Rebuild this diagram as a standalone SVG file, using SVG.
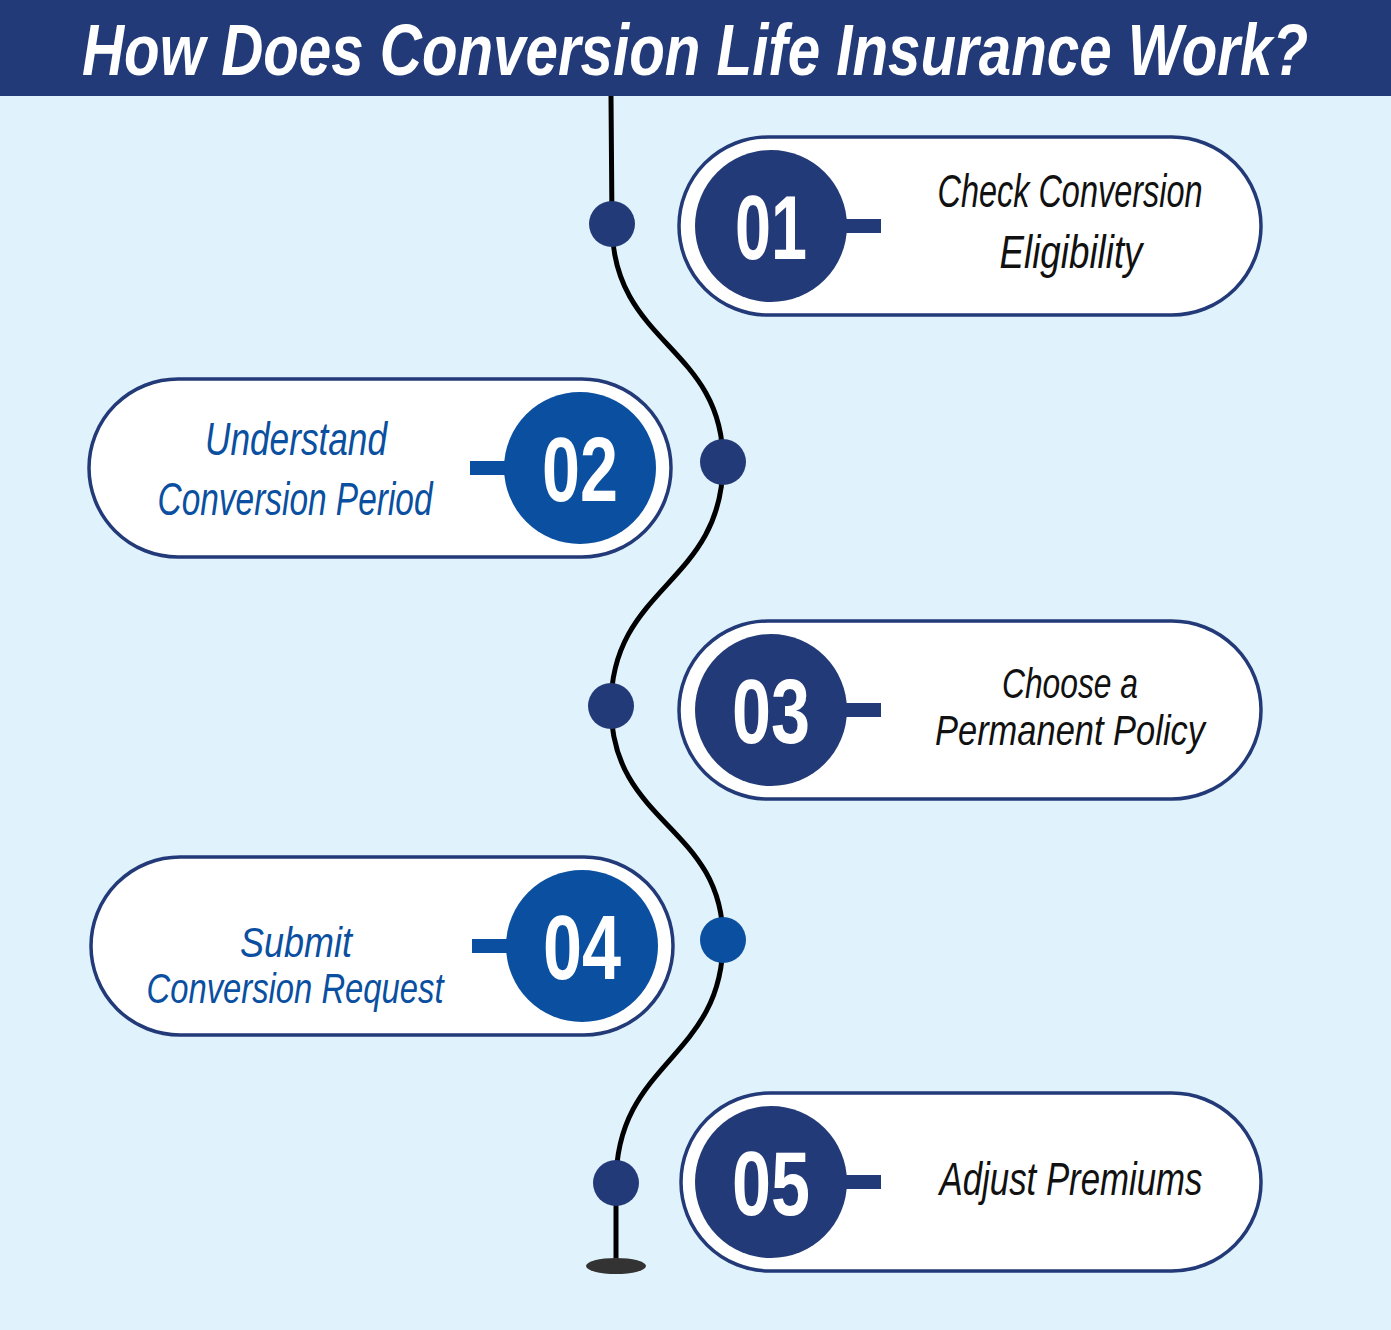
<svg xmlns="http://www.w3.org/2000/svg" width="1391" height="1330" viewBox="0 0 1391 1330">
<style>
.pill{fill:#ffffff;stroke:#233a78;stroke-width:3.5}
.dk{fill:#233a78}
.bl{fill:#0a4fa0}
.num{font-family:"Liberation Sans",Arial,sans-serif;font-weight:bold;font-size:90px;fill:#ffffff;text-anchor:middle}
.lbl{font-family:"Liberation Sans",Arial,sans-serif;font-style:italic;font-size:46px;text-anchor:middle}
.sm{font-size:42px}
.blk{fill:#111111}
.blt{fill:#0a4fa0}
</style>
<rect x="0" y="0" width="1391" height="1330" fill="#e0f2fc"/>
<g id="header">
<rect x="0" y="0" width="1391" height="96" fill="#233a78"/>
<text x="695" y="75" font-family="'Liberation Sans',Arial,sans-serif" font-weight="bold" font-style="italic" font-size="72" fill="#ffffff" text-anchor="middle" textLength="1226" lengthAdjust="spacingAndGlyphs">How Does Conversion Life Insurance Work?</text>
</g>
<g id="connectors">
<path d="M611,96 L612,224 C612,345 723,345 723,462 C723,585 611,585 611,706 C611,825 723,825 723,940 C723,1060 616,1060 616,1183 L616,1266" fill="none" stroke="#000000" stroke-width="5"/>
<ellipse cx="616" cy="1266" rx="30" ry="8" fill="#333333"/>
<circle cx="612" cy="224" r="23" class="dk"/>
<circle cx="723" cy="462" r="23" class="dk"/>
<circle cx="611" cy="706" r="23" class="dk"/>
<circle cx="723" cy="940" r="23" class="bl"/>
<circle cx="616" cy="1183" r="23" class="dk"/>
</g>
<g id="step1">
<rect x="679" y="137" width="582" height="178" rx="89" class="pill"/>
<rect x="840" y="219" width="41" height="14" class="dk"/>
<circle cx="771" cy="226" r="76" class="dk"/>
<text x="771" y="259" class="num" textLength="72" lengthAdjust="spacingAndGlyphs">01</text>
<text x="1070" y="207" class="lbl blk" textLength="265" lengthAdjust="spacingAndGlyphs">Check Conversion</text>
<text x="1071" y="268" class="lbl blk" textLength="143" lengthAdjust="spacingAndGlyphs">Eligibility</text>
</g>
<g id="step2">
<rect x="89" y="379" width="582" height="178" rx="89" class="pill"/>
<rect x="470" y="461" width="41" height="14" class="bl"/>
<circle cx="580" cy="468" r="76" class="bl"/>
<text x="580" y="501" class="num" textLength="76" lengthAdjust="spacingAndGlyphs">02</text>
<text x="296" y="455" class="lbl blt" textLength="182" lengthAdjust="spacingAndGlyphs">Understand</text>
<text x="295" y="515" class="lbl blt" textLength="275" lengthAdjust="spacingAndGlyphs">Conversion Period</text>
</g>
<g id="step3">
<rect x="679" y="621" width="582" height="178" rx="89" class="pill"/>
<rect x="840" y="703" width="41" height="14" class="dk"/>
<circle cx="771" cy="710" r="76" class="dk"/>
<text x="771" y="743" class="num" textLength="78" lengthAdjust="spacingAndGlyphs">03</text>
<text x="1070" y="698" class="lbl sm blk" textLength="136" lengthAdjust="spacingAndGlyphs">Choose a</text>
<text x="1070" y="745" class="lbl sm blk" textLength="270" lengthAdjust="spacingAndGlyphs">Permanent Policy</text>
</g>
<g id="step4">
<rect x="91" y="857" width="582" height="178" rx="89" class="pill"/>
<rect x="472" y="939" width="41" height="14" class="bl"/>
<circle cx="582" cy="946" r="76" class="bl"/>
<text x="582" y="979" class="num" textLength="78" lengthAdjust="spacingAndGlyphs">04</text>
<text x="296" y="957" class="lbl sm blt" textLength="112" lengthAdjust="spacingAndGlyphs">Submit</text>
<text x="295" y="1003" class="lbl sm blt" textLength="297" lengthAdjust="spacingAndGlyphs">Conversion Request</text>
</g>
<g id="step5">
<rect x="681" y="1093" width="580" height="178" rx="89" class="pill"/>
<rect x="840" y="1175" width="41" height="14" class="dk"/>
<circle cx="771" cy="1182" r="76" class="dk"/>
<text x="771" y="1215" class="num" textLength="78" lengthAdjust="spacingAndGlyphs">05</text>
<text x="1071" y="1195" class="lbl blk" textLength="263" lengthAdjust="spacingAndGlyphs">Adjust Premiums</text>
</g>
</svg>
